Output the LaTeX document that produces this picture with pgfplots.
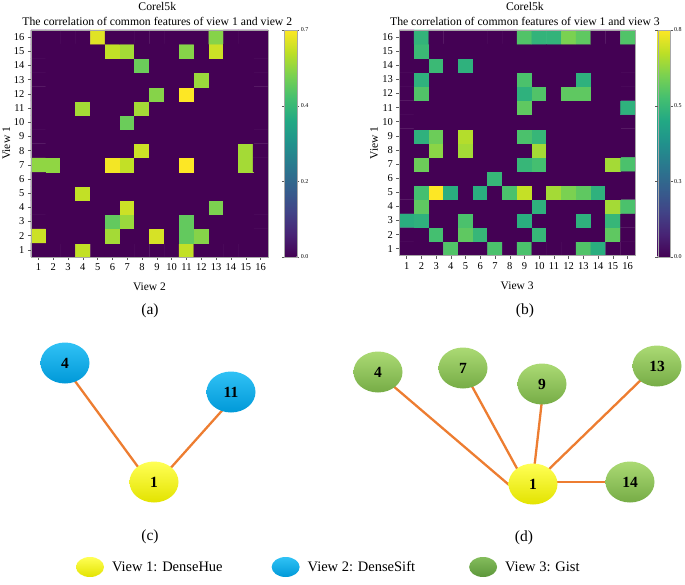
\documentclass[border=0pt]{standalone}
\usepackage{fontspec}
\setmainfont{Liberation Serif}
\usepackage{pgfplots}
\pgfplotsset{compat=1.18}
\usetikzlibrary{shapes.geometric}
\definecolor{edgeor}{HTML}{ED7D31}
\definecolor{framec}{HTML}{A8A8A8}
\definecolor{tickc}{HTML}{5A5A5A}
\definecolor{yel1}{HTML}{FFFF55}
\definecolor{yel2}{HTML}{E3E300}
\definecolor{blu1}{HTML}{30C2F5}
\definecolor{blu2}{HTML}{0099D8}
\definecolor{grn1}{HTML}{ABDA74}
\definecolor{grn2}{HTML}{76AC46}
\definecolor{lgr1}{HTML}{84BD5C}
\definecolor{lgr2}{HTML}{5C963A}
\tikzset{bubble/.style={ellipse, minimum width=49pt, minimum height=41pt, inner sep=0pt, anchor=center, font=\bfseries\fontsize{15.5}{15.5}\selectfont, text=black}}
\pgfplotsset{
  colormap={vir}{rgb255=(68,1,84) rgb255=(72,36,117) rgb255=(65,68,135) rgb255=(53,95,141) rgb255=(42,120,142) rgb255=(33,145,140) rgb255=(34,168,132) rgb255=(68,191,112) rgb255=(122,209,81) rgb255=(189,223,38) rgb255=(253,231,37)},
  heat/.style={
    scale only axis, anchor=south west,
    xmin=0.5, xmax=16.5, ymin=0.5, ymax=16.5,
    xtick={1,...,16}, ytick={1,...,16},
    xtick pos=left, ytick pos=left, tick align=outside,
    major tick length=3pt,
    tick style={tickc, line width=0.5pt},
    axis line style={framec, line width=0.6pt},
    axis on top, enlargelimits=false,
    colormap name=vir,
    ticklabel style={font=\fontsize{10.5}{12}\selectfont, /pgf/number format/assume math mode=true},
    label style={font=\fontsize{11.5}{13}\selectfont},
    every axis title/.style={at={(axis description cs:0.533,1.0176)}, anchor=south, align=center, inner sep=0pt, font=\fontsize{11.7}{15}\selectfont},
    xlabel style={at={(axis description cs:0.5,-0.1476)}, anchor=base},
  },
  cbar/.style={at={(parent axis.north east)}, anchor=north west,
    scale only axis, height=227pt,
    yticklabel style={font=\fontsize{6}{7}\selectfont, inner sep=1.5pt},
    major tick length=2.5pt, tick align=outside, tick style={tickc},
    axis line style={framec}},
}
\begin{document}
\begin{tikzpicture}
\useasboundingbox (0pt,0pt) rectangle (685pt,585pt);
% ---------------- heatmap (a)
\begin{axis}[heat, at={(31pt,328pt)}, width=237pt, height=227pt,
  title={Corel5k\\The correlation of common features of view 1 and view 2},
  xlabel={View 2}, ylabel={View 1},
  ylabel style={at={(axis description cs:-0.0886,0.5)}, anchor=base},
  point meta min=0, point meta max=0.66,
  colorbar,
  colorbar style={cbar, xshift=7.8pt, width=12.4pt,
    ytick={0,0.22,0.44,0.66}, yticklabels={0.0,0.2,0.4,0.7}},
]
\addplot[matrix plot*, mesh/cols=16, point meta=explicit] coordinates {
(1,1)[0] (2,1)[0] (3,1)[0] (4,1)[.60] (5,1)[0] (6,1)[0] (7,1)[0] (8,1)[0] (9,1)[0] (10,1)[0] (11,1)[.60] (12,1)[0] (13,1)[0] (14,1)[0] (15,1)[0] (16,1)[0]
(1,2)[.61] (2,2)[0] (3,2)[0] (4,2)[0] (5,2)[0] (6,2)[.57] (7,2)[0] (8,2)[0] (9,2)[.62] (10,2)[0] (11,2)[.50] (12,2)[.54] (13,2)[0] (14,2)[0] (15,2)[0] (16,2)[0]
(1,3)[0] (2,3)[0] (3,3)[0] (4,3)[0] (5,3)[0] (6,3)[.50] (7,3)[.56] (8,3)[0] (9,3)[0] (10,3)[0] (11,3)[.50] (12,3)[0] (13,3)[0] (14,3)[0] (15,3)[0] (16,3)[0]
(1,4)[0] (2,4)[0] (3,4)[0] (4,4)[0] (5,4)[0] (6,4)[0] (7,4)[.61] (8,4)[0] (9,4)[0] (10,4)[0] (11,4)[0] (12,4)[0] (13,4)[.53] (14,4)[0] (15,4)[0] (16,4)[0]
(1,5)[0] (2,5)[0] (3,5)[0] (4,5)[.60] (5,5)[0] (6,5)[0] (7,5)[0] (8,5)[0] (9,5)[0] (10,5)[0] (11,5)[0] (12,5)[0] (13,5)[0] (14,5)[0] (15,5)[0] (16,5)[0]
(1,6)[0] (2,6)[0] (3,6)[0] (4,6)[0] (5,6)[0] (6,6)[0] (7,6)[0] (8,6)[0] (9,6)[0] (10,6)[0] (11,6)[0] (12,6)[0] (13,6)[0] (14,6)[0] (15,6)[0] (16,6)[0]
(1,7)[.55] (2,7)[.55] (3,7)[0] (4,7)[0] (5,7)[0] (6,7)[.65] (7,7)[.60] (8,7)[0] (9,7)[0] (10,7)[0] (11,7)[.66] (12,7)[0] (13,7)[0] (14,7)[0] (15,7)[.57] (16,7)[0]
(1,8)[0] (2,8)[0] (3,8)[0] (4,8)[0] (5,8)[0] (6,8)[0] (7,8)[0] (8,8)[.61] (9,8)[0] (10,8)[0] (11,8)[0] (12,8)[0] (13,8)[0] (14,8)[0] (15,8)[.57] (16,8)[0]
(1,9)[0] (2,9)[0] (3,9)[0] (4,9)[0] (5,9)[0] (6,9)[0] (7,9)[0] (8,9)[0] (9,9)[0] (10,9)[0] (11,9)[0] (12,9)[0] (13,9)[0] (14,9)[0] (15,9)[0] (16,9)[0]
(1,10)[0] (2,10)[0] (3,10)[0] (4,10)[0] (5,10)[0] (6,10)[0] (7,10)[.51] (8,10)[0] (9,10)[0] (10,10)[0] (11,10)[0] (12,10)[0] (13,10)[0] (14,10)[0] (15,10)[0] (16,10)[0]
(1,11)[0] (2,11)[0] (3,11)[0] (4,11)[.57] (5,11)[0] (6,11)[0] (7,11)[0] (8,11)[.57] (9,11)[0] (10,11)[0] (11,11)[0] (12,11)[0] (13,11)[0] (14,11)[0] (15,11)[0] (16,11)[0]
(1,12)[0] (2,12)[0] (3,12)[0] (4,12)[0] (5,12)[0] (6,12)[0] (7,12)[0] (8,12)[0] (9,12)[.54] (10,12)[0] (11,12)[.66] (12,12)[0] (13,12)[0] (14,12)[0] (15,12)[0] (16,12)[0]
(1,13)[0] (2,13)[0] (3,13)[0] (4,13)[0] (5,13)[0] (6,13)[0] (7,13)[0] (8,13)[0] (9,13)[0] (10,13)[0] (11,13)[0] (12,13)[.56] (13,13)[0] (14,13)[0] (15,13)[0] (16,13)[0]
(1,14)[0] (2,14)[0] (3,14)[0] (4,14)[0] (5,14)[0] (6,14)[0] (7,14)[0] (8,14)[.51] (9,14)[0] (10,14)[0] (11,14)[0] (12,14)[0] (13,14)[0] (14,14)[0] (15,14)[0] (16,14)[0]
(1,15)[0] (2,15)[0] (3,15)[0] (4,15)[0] (5,15)[0] (6,15)[.60] (7,15)[.57] (8,15)[0] (9,15)[0] (10,15)[0] (11,15)[.54] (12,15)[0] (13,15)[.61] (14,15)[0] (15,15)[0] (16,15)[0]
(1,16)[0] (2,16)[0] (3,16)[0] (4,16)[0] (5,16)[.63] (6,16)[0] (7,16)[0] (8,16)[0] (9,16)[0] (10,16)[0] (11,16)[0] (12,16)[0] (13,16)[.54] (14,16)[0] (15,16)[0] (16,16)[0]
};
\end{axis}
% ---------------- heatmap (b)
\begin{axis}[heat, at={(399.3pt,329.3pt)}, width=235.7pt, height=225.7pt,
  title={Corel5k\\The correlation of common features of view 1 and view 3},
  xlabel={View 3}, ylabel={View 1},
  ylabel style={at={(axis description cs:-0.0904,0.5)}, anchor=base},
  point meta min=0, point meta max=0.8,
  colorbar,
  colorbar style={cbar, xshift=14.2pt, width=12.3pt,
    ytick={0,0.2667,0.5333,0.8}, yticklabels={0.0,0.3,0.5,0.8}},
]
\addplot[matrix plot*, mesh/cols=16, point meta=explicit] coordinates {
(1,1)[0] (2,1)[0] (3,1)[0] (4,1)[.58] (5,1)[0] (6,1)[0] (7,1)[.57] (8,1)[0] (9,1)[.57] (10,1)[0] (11,1)[0] (12,1)[0] (13,1)[.58] (14,1)[.50] (15,1)[0] (16,1)[0]
(1,2)[0] (2,2)[0] (3,2)[.56] (4,2)[0] (5,2)[.60] (6,2)[.53] (7,2)[0] (8,2)[0] (9,2)[0] (10,2)[.53] (11,2)[0] (12,2)[0] (13,2)[0] (14,2)[0] (15,2)[.60] (16,2)[0]
(1,3)[.50] (2,3)[.51] (3,3)[0] (4,3)[0] (5,3)[.57] (6,3)[0] (7,3)[0] (8,3)[0] (9,3)[.50] (10,3)[0] (11,3)[0] (12,3)[0] (13,3)[.51] (14,3)[0] (15,3)[.53] (16,3)[0]
(1,4)[0] (2,4)[.60] (3,4)[0] (4,4)[0] (5,4)[0] (6,4)[0] (7,4)[0] (8,4)[0] (9,4)[0] (10,4)[.51] (11,4)[0] (12,4)[0] (13,4)[0] (14,4)[0] (15,4)[.69] (16,4)[.57]
(1,5)[0] (2,5)[.56] (3,5)[.80] (4,5)[.50] (5,5)[0] (6,5)[.50] (7,5)[0] (8,5)[.57] (9,5)[.73] (10,5)[0] (11,5)[.69] (12,5)[.64] (13,5)[.60] (14,5)[.51] (15,5)[0] (16,5)[0]
(1,6)[0] (2,6)[0] (3,6)[0] (4,6)[0] (5,6)[0] (6,6)[0] (7,6)[.53] (8,6)[0] (9,6)[0] (10,6)[0] (11,6)[0] (12,6)[0] (13,6)[0] (14,6)[0] (15,6)[0] (16,6)[0]
(1,7)[0] (2,7)[.62] (3,7)[0] (4,7)[0] (5,7)[0] (6,7)[0] (7,7)[0] (8,7)[0] (9,7)[.53] (10,7)[.56] (11,7)[0] (12,7)[0] (13,7)[0] (14,7)[0] (15,7)[.69] (16,7)[.57]
(1,8)[0] (2,8)[0] (3,8)[.66] (4,8)[0] (5,8)[.69] (6,8)[0] (7,8)[0] (8,8)[0] (9,8)[0] (10,8)[.69] (11,8)[0] (12,8)[0] (13,8)[0] (14,8)[0] (15,8)[0] (16,8)[0]
(1,9)[0] (2,9)[.51] (3,9)[.62] (4,9)[0] (5,9)[.71] (6,9)[0] (7,9)[0] (8,9)[0] (9,9)[.57] (10,9)[.53] (11,9)[0] (12,9)[0] (13,9)[0] (14,9)[0] (15,9)[0] (16,9)[0]
(1,10)[0] (2,10)[0] (3,10)[0] (4,10)[0] (5,10)[0] (6,10)[0] (7,10)[0] (8,10)[0] (9,10)[0] (10,10)[0] (11,10)[0] (12,10)[0] (13,10)[0] (14,10)[0] (15,10)[0] (16,10)[0]
(1,11)[0] (2,11)[0] (3,11)[0] (4,11)[0] (5,11)[0] (6,11)[0] (7,11)[0] (8,11)[0] (9,11)[.60] (10,11)[0] (11,11)[0] (12,11)[0] (13,11)[0] (14,11)[0] (15,11)[0] (16,11)[.51]
(1,12)[0] (2,12)[.58] (3,12)[0] (4,12)[0] (5,12)[0] (6,12)[0] (7,12)[0] (8,12)[0] (9,12)[.51] (10,12)[.58] (11,12)[0] (12,12)[.60] (13,12)[.60] (14,12)[0] (15,12)[0] (16,12)[0]
(1,13)[0] (2,13)[.51] (3,13)[0] (4,13)[0] (5,13)[0] (6,13)[0] (7,13)[0] (8,13)[0] (9,13)[.57] (10,13)[0] (11,13)[0] (12,13)[0] (13,13)[.51] (14,13)[0] (15,13)[0] (16,13)[0]
(1,14)[0] (2,14)[0] (3,14)[.54] (4,14)[0] (5,14)[.51] (6,14)[0] (7,14)[0] (8,14)[0] (9,14)[0] (10,14)[0] (11,14)[0] (12,14)[0] (13,14)[0] (14,14)[0] (15,14)[0] (16,14)[0]
(1,15)[0] (2,15)[.54] (3,15)[0] (4,15)[0] (5,15)[0] (6,15)[0] (7,15)[0] (8,15)[0] (9,15)[0] (10,15)[0] (11,15)[0] (12,15)[0] (13,15)[0] (14,15)[0] (15,15)[0] (16,15)[0]
(1,16)[0] (2,16)[.52] (3,16)[0] (4,16)[0] (5,16)[0] (6,16)[0] (7,16)[0] (8,16)[0] (9,16)[.58] (10,16)[.52] (11,16)[.52] (12,16)[.64] (13,16)[.60] (14,16)[0] (15,16)[0] (16,16)[.58]
};
\end{axis}
% ---------------- graphs (c), (d), captions and legend
\begin{axis}[at={(0pt,0pt)}, anchor=south west, scale only axis, width=685pt, height=585pt,
  xmin=0, xmax=685, ymin=0, ymax=585, y dir=reverse, hide axis, clip=false,
  legend columns=3,
  legend style={at={(axis cs:76,567)}, anchor=west, draw=none, fill=none, inner sep=0pt, outer sep=0pt,
    font=\fontsize{14.5}{16}\selectfont, nodes={inner sep=0pt},
    /tikz/every odd column/.append style={column sep=8pt},
    /tikz/column 2/.style={column sep=49pt},
    /tikz/column 4/.style={column sep=54pt}},
]
\addlegendimage{legend image code/.code={\shade[draw=none, top color=yel1, bottom color=yel2] (14pt,0pt) ellipse [x radius=14pt, y radius=10pt];}}
\addlegendentry{View 1: DenseHue}
\addlegendimage{legend image code/.code={\shade[draw=none, top color=blu1, bottom color=blu2] (14pt,0pt) ellipse [x radius=14pt, y radius=10pt];}}
\addlegendentry{View 2: DenseSift}
\addlegendimage{legend image code/.code={\shade[draw=none, top color=lgr1, bottom color=lgr2] (14pt,0pt) ellipse [x radius=14pt, y radius=10pt];}}
\addlegendentry{View 3: Gist}
% edges (c)
\addplot[edgeor, line width=2.3pt, forget plot] coordinates {(72,377) (141,471)};
\addplot[edgeor, line width=2.3pt, forget plot] coordinates {(227,405) (168,471)};
% edges (d)
\addplot[edgeor, line width=2.3pt, forget plot] coordinates {(385,379) (515,490)};
\addplot[edgeor, line width=2.3pt, forget plot] coordinates {(468,379) (520,474)};
\addplot[edgeor, line width=2.3pt, forget plot] coordinates {(542,400) (534,470)};
\addplot[edgeor, line width=2.3pt, forget plot] coordinates {(644,377) (545,473)};
\addplot[edgeor, line width=2.3pt, forget plot] coordinates {(550,482) (612,482)};
% nodes
\addplot[only marks, mark=*, mark size=0.1pt, mark options={draw=none, fill=none}, forget plot,
  point meta=explicit symbolic, nodes near coords={\pgfplotspointmeta},
  every node near coord/.append style={bubble, top color=blu1, bottom color=blu2}]
  coordinates {(65,363)[4] (231,392)[11]};
\addplot[only marks, mark=*, mark size=0.1pt, mark options={draw=none, fill=none}, forget plot,
  point meta=explicit symbolic, nodes near coords={\pgfplotspointmeta},
  every node near coord/.append style={bubble, top color=grn1, bottom color=grn2}]
  coordinates {(378,372)[4] (463,368)[7] (542,384)[9] (657,366)[13] (630,482)[14]};
\addplot[only marks, mark=*, mark size=0.1pt, mark options={draw=none, fill=none}, forget plot,
  point meta=explicit symbolic, nodes near coords={\pgfplotspointmeta},
  every node near coord/.append style={bubble, top color=yel1, bottom color=yel2}]
  coordinates {(154,482)[1] (533,484)[1]};
% captions
\node[font=\fontsize{15.5}{17}\selectfont] at (axis cs:150,311) {(a)};
\node[font=\fontsize{15.5}{17}\selectfont] at (axis cs:525,311) {(b)};
\node[font=\fontsize{15.5}{17}\selectfont] at (axis cs:150,537) {(c)};
\node[font=\fontsize{15.5}{17}\selectfont] at (axis cs:524,538) {(d)};
\end{axis}
\end{tikzpicture}
\end{document}
